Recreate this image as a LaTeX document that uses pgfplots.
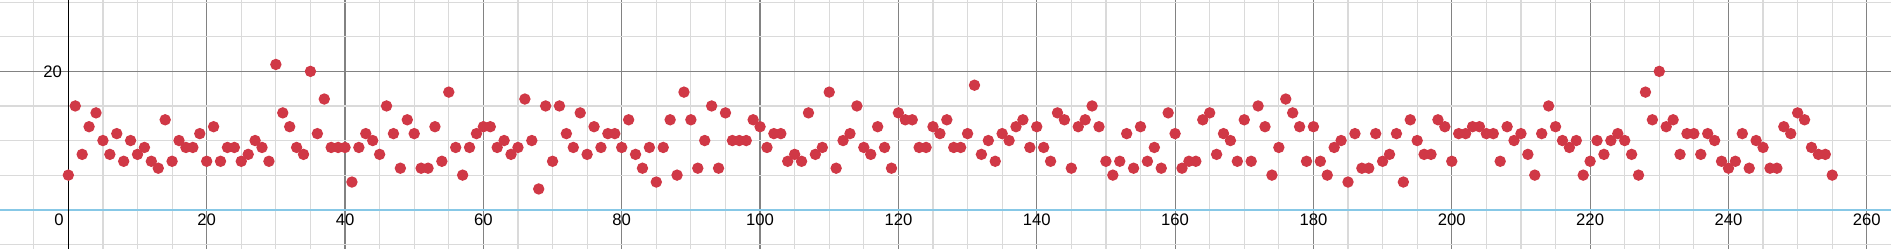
\documentclass[border=0pt]{standalone}
\usepackage{fontspec}
\setmainfont{Liberation Sans}
\usepackage{pgfplots}
\pgfplotsset{compat=1.18}
\definecolor{dotred}{RGB}{208,56,70}
\definecolor{axblue}{RGB}{135,200,230}
\definecolor{majgrid}{RGB}{130,130,130}
\definecolor{mingrid}{RGB}{218,218,218}
\begin{document}
\begin{tikzpicture}
\begin{axis}[
  scale only axis,
  width=567.3pt, height=74.7pt,
  xmin=-9.88, xmax=263.5,
  ymin=-5.68, ymax=30.32,
  axis lines=middle,
  axis line style={-},
  x axis line style={axblue, line width=0.6pt},
  y axis line style={black, line width=0.5pt},
  xtick={20,40,...,260},
  extra x ticks={0},
  extra x tick style={grid=none, xticklabel style={xshift=-2.8pt}},
  ytick={20},
  minor xtick={-5,5,10,15,25,30,35,45,50,55,65,70,75,85,90,95,105,110,115,125,130,135,145,150,155,165,170,175,185,190,195,205,210,215,225,230,235,245,250,255},
  minor ytick={-5,5,10,15,25,30},
  grid=both,
  major grid style={majgrid, line width=0.35pt},
  minor grid style={mingrid, line width=0.35pt},
  major tick length=0pt, minor tick length=0pt,
  tick style={draw=none},
  /pgf/number format/assume math mode=true,
  ticklabel style={font=\fontsize{5}{6}\selectfont, inner sep=0pt},
  xticklabel style={anchor=north, yshift=-1.1pt},
  yticklabel style={anchor=east, xshift=-1.7pt},
  clip=true,
]
\addplot[only marks, mark=*, mark size=1.5pt, mark options={draw=dotred, fill=dotred}] table[x=x, y=y] {
x y
0 5
1 15
2 8
3 12
4 14
5 10
6 8
7 11
8 7
9 10
10 8
11 9
12 7
13 6
14 13
15 7
16 10
17 9
18 9
19 11
20 7
21 12
22 7
23 9
24 9
25 7
26 8
27 10
28 9
29 7
30 21
31 14
32 12
33 9
34 8
35 20
36 11
37 16
38 9
39 9
40 9
41 4
42 9
43 11
44 10
45 8
46 15
47 11
48 6
49 13
50 11
51 6
52 6
53 12
54 7
55 17
56 9
57 5
58 9
59 11
60 12
61 12
62 9
63 10
64 8
65 9
66 16
67 10
68 3
69 15
70 7
71 15
72 11
73 9
74 14
75 8
76 12
77 9
78 11
79 11
80 9
81 13
82 8
83 6
84 9
85 4
86 9
87 13
88 5
89 17
90 13
91 6
92 10
93 15
94 6
95 14
96 10
97 10
98 10
99 13
100 12
101 9
102 11
103 11
104 7
105 8
106 7
107 14
108 8
109 9
110 17
111 6
112 10
113 11
114 15
115 9
116 8
117 12
118 9
119 6
120 14
121 13
122 13
123 9
124 9
125 12
126 11
127 13
128 9
129 9
130 11
131 18
132 8
133 10
134 7
135 11
136 10
137 12
138 13
139 9
140 12
141 9
142 7
143 14
144 13
145 6
146 12
147 13
148 15
149 12
150 7
151 5
152 7
153 11
154 6
155 12
156 7
157 9
158 6
159 14
160 11
161 6
162 7
163 7
164 13
165 14
166 8
167 11
168 10
169 7
170 13
171 7
172 15
173 12
174 5
175 9
176 16
177 14
178 12
179 7
180 12
181 7
182 5
183 9
184 10
185 4
186 11
187 6
188 6
189 11
190 7
191 8
192 11
193 4
194 13
195 10
196 8
197 8
198 13
199 12
200 7
201 11
202 11
203 12
204 12
205 11
206 11
207 7
208 12
209 10
210 11
211 8
212 5
213 11
214 15
215 12
216 10
217 9
218 10
219 5
220 7
221 10
222 8
223 10
224 11
225 10
226 8
227 5
228 17
229 13
230 20
231 12
232 13
233 8
234 11
235 11
236 8
237 11
238 10
239 7
240 6
241 7
242 11
243 6
244 10
245 9
246 6
247 6
248 12
249 11
250 14
251 13
252 9
253 8
254 8
255 5
};
\end{axis}
\pgfresetboundingbox
\path[use as bounding box] (current axis.south west) rectangle (current axis.north east);
\end{tikzpicture}
\end{document}
